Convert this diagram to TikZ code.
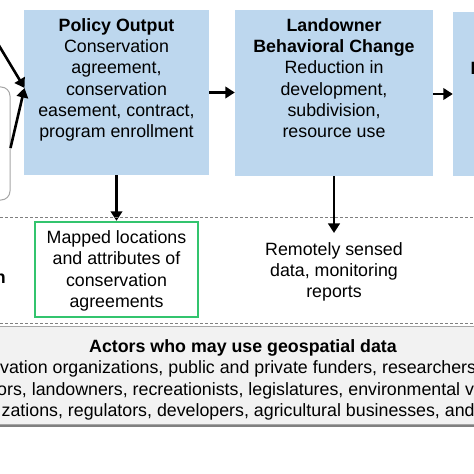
\documentclass[tikz,border=0pt]{standalone}
\usepackage{fontspec}
\setmainfont{Liberation Sans}
\usetikzlibrary{arrows.meta}
\definecolor{boxblue}{HTML}{BDD7EE}
\definecolor{mapgreen}{HTML}{33C46E}
\definecolor{actorgray}{HTML}{F2F2F2}
\definecolor{rimgray}{HTML}{A6A6A6}

\begin{document}
\begin{tikzpicture}[x=1bp,y=-1bp,
        txt/.style={font=\fontsize{17.8bp}{21.2bp}\selectfont, align=center, inner sep=0pt},
        headtxt/.style={txt, font=\fontsize{17.8bp}{21.2bp}\selectfont\bfseries},
        stage/.style={fill=boxblue, draw=none, inner sep=0pt},
        flow/.style={line width=2.6bp, -{Triangle[length=9.5bp,width=11.5bp]}},
        divider/.style={draw=gray, dash pattern=on 3bp off 2bp, line width=0.8bp}]
    \useasboundingbox (0,0) rectangle (474,474);
    \clip (0,0) rectangle (474,474);
    % boxes of the chain
    \node[draw=rimgray, fill=white, line width=1bp, rounded corners=9bp, minimum width=60bp, minimum height=113bp] (inbox) at (-20,143.5) {};
    \node[stage, minimum width=185bp, minimum height=165bp] (policy) at (116.5,92.5) {};
    \node[stage, minimum width=198bp, minimum height=166bp] (landowner) at (334,93) {};
    \node[stage, minimum width=60bp, minimum height=164bp] (next) at (483,94) {};
    \node[txt, anchor=north] (policytxt) at (116.5,18.5) {\textbf{Policy Output}\\Conservation\\agreement,\\conservation\\easement, contract,\\program enrollment};
    \node[txt, anchor=north] (landownertxt) at (334,18.5) {\textbf{Landowner}\\\textbf{Behavioral Change}\\Reduction in\\development,\\subdivision,\\resource use};
    \node[headtxt, anchor=base west] (nexttxt) at (470.5,75) {E};
    \node[headtxt, anchor=base east] (rowtxt) at (6,283) {n};
    % data sources
    \node[draw=mapgreen, line width=2.4bp, minimum width=163bp, minimum height=95bp] (mapped) at (116.5,269.5) {};
    \node[txt, anchor=north] (mappedtxt) at (116.5,230.5) {Mapped locations\\and attributes of\\conservation\\agreements};
    \node[txt, anchor=north] (remote) at (334,242) {Remotely sensed\\data, monitoring\\reports};
    % arrows
    \coordinate (offleft) at (-10,30.6);
    \coordinate (join) at (24.5,88);
    \draw[flow] (offleft) -- (join);
    \draw[flow] ([yshift=-4.5bp]inbox.east) -- (join);
    \draw[flow] (policy.east) -- (policy.east -| landowner.west);
    \draw[flow] ([yshift=-1bp]landowner.east) -- ([yshift=-1bp]landowner.east -| next.west);
    \draw[flow] (policy.south) -- (mapped.north);
    \draw[flow, shorten >=9bp] (landowner.south) -- (remote.north);
    % dashed band
    \draw[divider] (-5,217) -- (480,217);
    \draw[divider] (-5,323) -- (480,323);
    % actors
    \node[fill=actorgray, draw=rimgray, line width=0.8bp, minimum width=500bp, minimum height=98bp] (actors) at (237,375) {};
    \draw[gray, line width=1.8bp] ([yshift=-1.3bp]actors.south west) -- ([yshift=-1.3bp]actors.south east);
    \node[headtxt, anchor=base] (actorshead) at (243,352) {Actors who may use geospatial data};
    \node[txt, anchor=base west] (actorsa) at (0,373.5) {vation organizations, public and private funders, researchers};
    \node[txt, anchor=base west] (actorsb) at (-3,395) {ors, landowners, recreationists, legislatures, environmental v};
    \node[txt, anchor=base west] (actorsc) at (1.5,416.5) {zations, regulators, developers, agricultural businesses, and};
\end{tikzpicture}
\end{document}
